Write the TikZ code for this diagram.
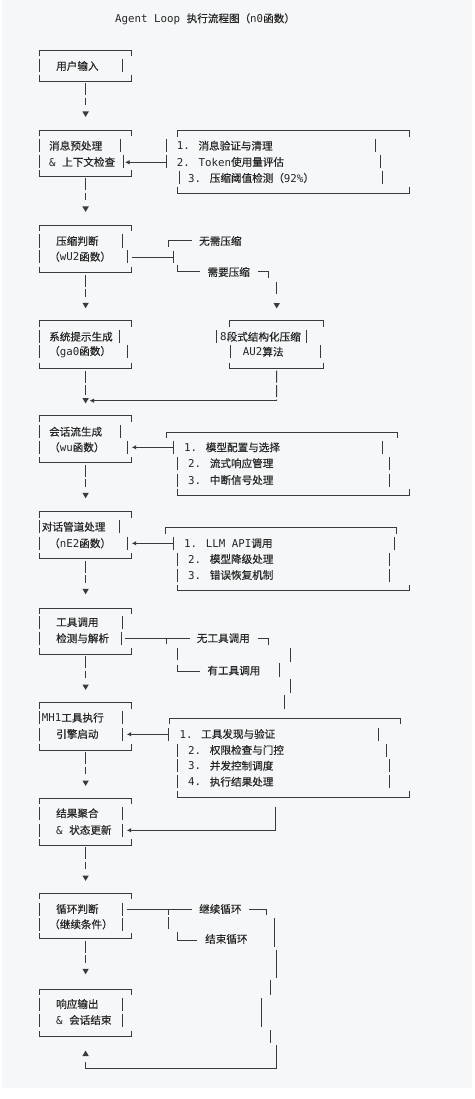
\documentclass[tikz,border=0pt]{standalone}
\usepackage{fontspec}
\setmainfont{DejaVu Sans Mono}
\newfontfamily\cjk{Noto Sans CJK SC}[Scale=0.98,FakeBold=0.4]
\newcommand\zh[1]{{\cjk #1}}
\usetikzlibrary{arrows.meta}
\definecolor{bg}{HTML}{F6F7F9}
\definecolor{lc}{HTML}{3A3A3A}
\definecolor{tc}{HTML}{262626}
\tikzset{
 ln/.style={draw=lc, line width=1pt},
 dsh/.style={ln, dash pattern=on 12pt off 2.5pt},
 arr/.style={ln, -{Latex[length=4.5pt,width=4.5pt]}},
 txt/.style={anchor=west, inner sep=0pt, text=tc, font=\fontsize{10.8pt}{12pt}\selectfont},
 boxn/.style={rectangle, inner sep=0pt, draw=none, minimum width=92.2pt},
}
\newcommand\vb[2]{\draw[ln] (#1,#2-6.5) -- (#1,#2+6.5);}
\newcommand\frm[1]{%
 \draw[ln] ([yshift=-6pt]#1.north west) -- (#1.north west) -- (#1.north east) -- ([yshift=-6pt]#1.north east);
 \draw[ln] ([yshift=6pt]#1.south west) -- (#1.south west) -- (#1.south east) -- ([yshift=6pt]#1.south east);}
\newcommand\topl[3]{\draw[ln] (#1,#3+6) -- (#1,#3) -- (#2,#3) -- (#2,#3+6);}
\newcommand\botl[3]{\draw[ln] (#1,#3-6) -- (#1,#3) -- (#2,#3) -- (#2,#3-6);}
\newcommand\tridown[2]{\fill[lc] (#1-3.2,#2-2.7) -- (#1+3.2,#2-2.7) -- (#1,#2+2.7) -- cycle;}
\newcommand\triup[2]{\fill[lc] (#1-3.2,#2+2.7) -- (#1+3.2,#2+2.7) -- (#1,#2-2.7) -- cycle;}
\newcommand\dn[1]{%
 \draw[dsh] ([yshift=-2pt]#1.south) -- ([yshift=-24pt]#1.south);
 \fill[lc] ([shift={(-3.2pt,-30.3pt)}]#1.south) -- ([shift={(3.2pt,-30.3pt)}]#1.south) -- ([yshift=-35.7pt]#1.south) -- cycle;}
\begin{document}
\begin{tikzpicture}[x=1pt,y=-1pt]
\useasboundingbox (0,0) rectangle (474,1099);
\fill[white] (0,0) rectangle (474,1099);
\fill[bg] (2,0) rectangle (472,1087.5);

% title
\node[txt] (title) at (115,19) {Agent Loop \zh{执行流程图（}n0\zh{函数）}};

% main box nodes
\node[boxn, minimum height=30.3pt] (b1) at (85.6,65.85) {};
\node[boxn, minimum height=45.3pt] (b2) at (85.6,153.35) {};
\node[boxn, minimum height=46.6pt] (b3) at (85.6,249) {};
\node[boxn, minimum height=47.3pt] (b4) at (85.6,344.65) {};
\node[boxn, minimum height=47.3pt, minimum width=93.3pt] (b5) at (276.65,344.65) {};
\node[boxn, minimum height=46.6pt] (b6) at (85.6,439) {};
\node[boxn, minimum height=46.6pt] (b7) at (85.6,535) {};
\node[boxn, minimum height=45.7pt] (b8) at (85.6,631.15) {};
\node[boxn, minimum height=47.3pt] (b9) at (85.6,726.35) {};
\node[boxn, minimum height=46.7pt] (b10) at (85.6,821.65) {};
\node[boxn, minimum height=45pt] (b11) at (85.6,915.8) {};
\node[boxn, minimum height=47.4pt] (b12) at (85.6,1013) {};
\foreach \b in {b1,b2,b3,b4,b5,b6,b7,b8,b9,b10,b11,b12} {\frm{\b}}

% box bars
\vb{39.5}{66} \vb{122.7}{66}
\vb{39.5}{145.7} \vb{120}{145.7} \vb{39.5}{162} \vb{123.3}{162}
\vb{39.5}{241} \vb{122.7}{241} \vb{39.5}{256.7} \vb{127.7}{256.7}
\vb{39.5}{336.7} \vb{119}{336.7} \vb{39.5}{351.7} \vb{127.7}{351.7}
\vb{216.7}{336.7} \vb{306.7}{336.7} \vb{230}{351.7} \vb{320.7}{351.7}
\vb{39.5}{431.7} \vb{120}{431.7} \vb{39.5}{447.3} \vb{127.7}{447.3}
\vb{39.5}{526.7} \vb{119}{526.7} \vb{39.5}{543.3} \vb{127.7}{543.3}
\vb{39.5}{622.3} \vb{122.7}{622.3} \vb{39.5}{638.3} \vb{121.7}{638.3}
\vb{39.5}{717.7} \vb{122.7}{717.7} \vb{39.5}{734} \vb{122.7}{734}
\vb{39.5}{813.3} \vb{122.7}{813.3} \vb{39.5}{830} \vb{122.7}{830}
\vb{39.5}{909} \vb{122.7}{909} \vb{39.5}{924.3} \vb{122.7}{924.3}
\vb{39.5}{1004} \vb{122.7}{1004} \vb{39.5}{1020} \vb{122.7}{1020}

% box texts
\node[txt] (t1) at (56,66) {\zh{用户输入}};
\node[txt] (t2a) at (49,145.7) {\zh{消息预处理}};
\node[txt] (t2b) at (49,162) {\& \zh{上下文检查}};
\node[txt] (t3a) at (56,241) {\zh{压缩判断}};
\node[txt] (t3b) at (49,256.7) {\zh{（}wU2\zh{函数）}};
\node[txt] (t4a) at (49,336.7) {\zh{系统提示生成}};
\node[txt] (t4b) at (49,351.7) {\zh{（}ga0\zh{函数）}};
\node[txt] (t5a) at (220,336.7) {8\zh{段式结构化压缩}};
\node[txt] (t5b) at (242.7,351.7) {AU2\zh{算法}};
\node[txt] (t6a) at (49,431.7) {\zh{会话流生成}};
\node[txt] (t6b) at (49,447.3) {\zh{（}wu\zh{函数）}};
\node[txt] (t7a) at (41.7,526.7) {\zh{对话管道处理}};
\node[txt] (t7b) at (49,543.3) {\zh{（}nE2\zh{函数）}};
\node[txt] (t8a) at (56,622.3) {\zh{工具调用}};
\node[txt] (t8b) at (56,638.3) {\zh{检测与解析}};
\node[txt] (t9a) at (41.7,717.7) {MH1\zh{工具执行}};
\node[txt] (t9b) at (56,734) {\zh{引擎启动}};
\node[txt] (t10a) at (56,813.3) {\zh{结果聚合}};
\node[txt] (t10b) at (56,830) {\& \zh{状态更新}};
\node[txt] (t11a) at (56,909) {\zh{循环判断}};
\node[txt] (t11b) at (49,924.3) {\zh{（继续条件）}};
\node[txt] (t12a) at (56,1004) {\zh{响应输出}};
\node[txt] (t12b) at (56,1020) {\& \zh{会话结束}};

% vertical flow connectors
\dn{b1} \dn{b2} \dn{b3} \dn{b6} \dn{b7} \dn{b8} \dn{b9} \dn{b10} \dn{b11}

% side box 2
\topl{177.7}{409.3}{130.7} \botl{177.7}{409.3}{193.3}
\vb{166.7}{145.7} \vb{375.7}{145.7}
\vb{166.7}{162} \vb{380}{162}
\vb{179}{178} \vb{382.7}{178}
\node[txt] (s2a) at (176.7,145.7) {1. \zh{消息验证与清理}};
\node[txt] (s2b) at (176.7,162) {2. Token\zh{使用量评估}};
\node[txt] (s2c) at (188,178) {3. \zh{压缩阈值检测（}92\%\zh{）}};
\coordinate (a2) at (166.7,162.3); \coordinate (a2t) at (125,162.3);
\draw[arr] (a2) -- (a2t);

% compression branch
\coordinate (j3) at (173.3,257.3);
\draw[ln] (b3.east |- j3) -- (j3);
\draw[ln] (173.3,250.7) -- (173.3,262.7);
\node[txt] (n3a) at (199,241) {\zh{无需压缩}};
\node[txt] (n3b) at (207.3,272) {\zh{需要压缩}};
\draw[ln] (168.3,246.7) -- (168.3,240.6) -- (192,240.6);
\draw[ln] (177.7,265) -- (177.7,271.7) -- (200,271.7);
\draw[ln] (258,271.7) -- (268.3,271.7) -- (268.3,278);
\draw[dsh] (276.7,281.7) -- (276.7,296);
\tridown{276.7}{305.7}

% merge into conversation flow
\draw[dsh] ([yshift=-2pt]b4.south) -- ([yshift=-26pt]b4.south);
\coordinate (m5) at (276.7,400.7); \coordinate (m4) at (89.5,400.7);
\draw[dsh] ([yshift=-2pt]b5.south) -- (m5);
\draw[arr] (m5) -- (m4);
\tridown{85.6}{400.7}

% side box 6
\topl{166.7}{397.7}{432.3} \botl{177.7}{409.3}{495}
\vb{173.3}{447.3} \vb{382.3}{447.3}
\vb{177.7}{463.3} \vb{389}{463.3}
\vb{177.7}{480} \vb{389}{480}
\node[txt] (s6a) at (184,447.3) {1. \zh{模型配置与选择}};
\node[txt] (s6b) at (188,463.3) {2. \zh{流式响应管理}};
\node[txt] (s6c) at (188,480) {3. \zh{中断信号处理}};
\coordinate (a6) at (173.3,447.3); \coordinate (a6t) at (131.7,447.3);
\draw[arr] (a6) -- (a6t);

% side box 7
\topl{165}{396}{527.7} \botl{177.7}{409.3}{590.7}
\vb{173.3}{543.3} \vb{394}{543.3}
\vb{177.7}{559} \vb{389}{559}
\vb{177.7}{575} \vb{389}{575}
\node[txt] (s7a) at (184,543.3) {1. LLM API\zh{调用}};
\node[txt] (s7b) at (188,559) {2. \zh{模型降级处理}};
\node[txt] (s7c) at (188,575) {3. \zh{错误恢复机制}};
\coordinate (a7) at (173.3,543.3); \coordinate (a7t) at (131.7,543.3);
\draw[arr] (a7) -- (a7t);

% tool call branch
\node[txt] (n8a) at (196.7,638.3) {\zh{无工具调用}};
\node[txt] (n8b) at (207.3,670.5) {\zh{有工具调用}};
\draw[ln] (125,638.3) -- (190,638.3);
\draw[ln] (166.7,638.3) -- (166.7,644);
\draw[ln] (258,638.3) -- (268.3,638.3) -- (268.3,645);
\draw[ln] (177.7,647.5) -- (177.7,660);
\draw[ln] (177.7,665) -- (177.7,671.3) -- (200,671.3);
\draw[ln] (279.3,663) -- (279.3,676.7);
\draw[ln] (290,648.3) -- (290,661.7);
\draw[ln] (290,679.3) -- (290,692.7);
\draw[ln] (284,695) -- (284,709.3);

% side box 9
\topl{169.3}{400}{718.3} \botl{177.7}{409.3}{797.3}
\vb{168.3}{734} \vb{378.3}{734}
\vb{177.7}{750} \vb{386.7}{750}
\vb{177.7}{765.7} \vb{389}{765.7}
\vb{177.7}{781.7} \vb{389}{781.7}
\node[txt] (s9a) at (179.3,734) {1. \zh{工具发现与验证}};
\node[txt] (s9b) at (188,750) {2. \zh{权限检查与门控}};
\node[txt] (s9c) at (188,765.7) {3. \zh{并发控制调度}};
\node[txt] (s9d) at (188,781.7) {4. \zh{执行结果处理}};
\coordinate (a9) at (168.3,734.3); \coordinate (a9t) at (126.7,734.3);
\draw[arr] (a9) -- (a9t);

% result aggregation arrow
\coordinate (a10) at (275,806.7); \coordinate (a10t) at (126.7,830.3);
\draw[arr] (a10) |- (a10t);

% loop branch
\node[txt] (n11a) at (199,909) {\zh{继续循环}};
\node[txt] (n11b) at (205,939) {\zh{结束循环}};
\draw[ln] (126.7,909.4) -- (191.7,909.4);
\draw[ln] (168.3,909.4) -- (168.3,915);
\draw[ln] (249.3,909.4) -- (266,909.4) -- (266,915);
\draw[ln] (168.3,917) -- (168.3,929);
\draw[ln] (177.7,932) -- (177.7,940.4) -- (197,940.4);
\draw[ln] (274.3,918.3) -- (274.3,946.7);
\draw[ln] (276,950) -- (276,978);
\draw[ln] (270,980) -- (270,995);
\draw[ln] (261,998.3) -- (261,1026.7);
\draw[ln] (270,1030) -- (270,1043.3);
\coordinate (l1) at (276.7,1045);
\draw[ln] (l1) -- (276.7,1068.4) -- (85.6,1068.4) -- (85.6,1061.7);
\triup{85.6}{1053.3}
\end{tikzpicture}
\end{document}
